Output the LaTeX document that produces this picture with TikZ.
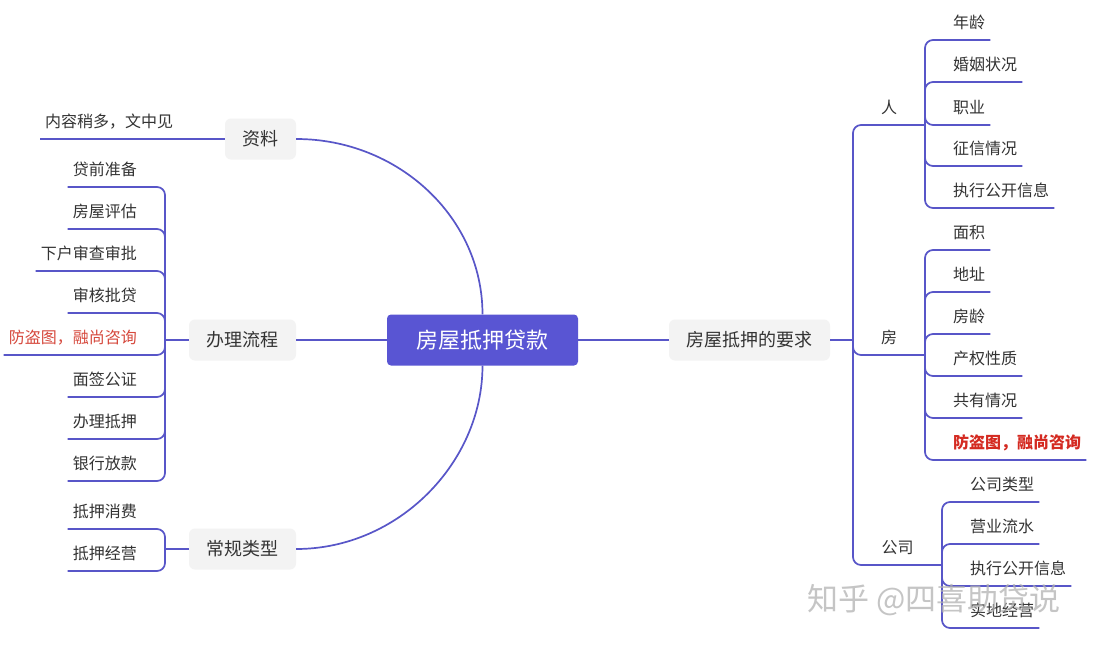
\documentclass[tikz,border=0pt]{standalone}
\usepackage{fontspec}
\setmainfont{Noto Sans CJK SC}
\definecolor{lineblue}{RGB}{88,86,200}
\definecolor{rootblue}{RGB}{89,85,211}
\definecolor{boxgray}{RGB}{243,243,243}
\definecolor{txt}{RGB}{51,51,51}
\definecolor{redtxt}{RGB}{214,72,60}
\definecolor{redbold}{RGB}{212,42,33}
\tikzset{
  conn/.style={draw=lineblue, line width=1.7pt, rounded corners=8pt},
  leafR/.style={anchor=south west, inner xsep=5pt, inner ysep=0pt, text depth=11pt, text height=12pt, font=\fontsize{16pt}{18pt}\selectfont, text=txt},
  leafL/.style={leafR, anchor=south east},
  topic/.style={fill=boxgray, rounded corners=6pt, inner xsep=17.5pt, inner ysep=0pt, minimum height=41pt, text height=15pt, text depth=1.4pt, font=\fontsize{18pt}{20pt}\selectfont, text=txt},
  rootbox/.style={fill=rootblue, rounded corners=4pt, inner xsep=29.5pt, inner ysep=0pt, minimum height=51pt, text height=18pt, text depth=1.2pt, font=\fontsize{22pt}{24pt}\selectfont, text=white},
  watermark/.style={font=\fontsize{31pt}{33pt}\selectfont, text=gray!60, opacity=0.75}
}
\begin{document}
\begin{tikzpicture}[x=1pt,y=-1pt]
\fill[white] (0,0) rectangle (1098,648);
\useasboundingbox (0,0) rectangle (1098,648);

% root and topics
\node[rootbox] (root) at (482.5,340) {房屋抵押贷款};
\node[topic] (ziliao) at (260.5,139) {资料};
\node[topic] (liucheng) at (242.5,340) {办理流程};
\node[topic] (leixing) at (242.5,549) {常规类型};
\node[topic] (req) at (749.5,340) {房屋抵押的要求};

\draw[conn] (ziliao.east) .. controls +(102,0) and +(0,-97) .. (root.north);
\draw[conn] (leixing.east) .. controls +(102,0) and +(0,97) .. (root.south);
\draw[conn] (root.west) -- (liucheng.east);
\draw[conn] (root.east) -- (req.west);

% 资料
\node[leafR] (zl1) at (40,139) {内容稍多，文中见};
\draw[conn] (ziliao.west) -- (zl1.south west);

% 办理流程
\coordinate (lcJ) at (165,340);
\draw[conn] (liucheng.west) -- (lcJ);
\node[leafL] (L1) at (142,187) {贷前准备};
\node[leafL] (L2) at (142,229) {房屋评估};
\node[leafL] (L3) at (142,271) {下户审查审批};
\node[leafL] (L4) at (142,313) {审核批贷};
\node[leafL, text=redtxt] (L5) at (142,355) {防盗图，融尚咨询};
\node[leafL] (L6) at (142,397) {面签公证};
\node[leafL] (L7) at (142,439) {办理抵押};
\node[leafL] (L8) at (142,481) {银行放款};
\foreach \n in {L1,L2,L3,L4,L5,L6,L7,L8}{\draw[conn] (lcJ) |- (\n.south west);}

% 常规类型
\coordinate (lxJ) at (165,549);
\draw[conn] (leixing.west) -- (lxJ);
\node[leafL] (C1) at (142,529) {抵押消费};
\node[leafL] (C2) at (142,571) {抵押经营};
\foreach \n in {C1,C2}{\draw[conn] (lxJ) |- (\n.south west);}

% 房屋抵押的要求
\coordinate (rJ) at (853,340);
\draw[conn] (req.east) -- (rJ);
\coordinate (renJ) at (925,125);
\coordinate (fangJ) at (925,355);
\coordinate (gsJ) at (942,565);
\draw[conn] (rJ) |- (renJ);
\draw[conn] (rJ) |- (fangJ);
\draw[conn] (rJ) |- (gsJ);
\node[leafR, anchor=south] (ren) at (889,125) {人};
\node[leafR, anchor=south] (fang) at (889,355) {房};
\node[leafR, anchor=south] (gongsi) at (897.5,565) {公司};

% 人
\node[leafR] (R1) at (948,40) {年龄};
\node[leafR] (R2) at (948,82) {婚姻状况};
\node[leafR] (R3) at (948,125) {职业};
\node[leafR] (R4) at (948,166) {征信情况};
\node[leafR] (R5) at (948,208) {执行公开信息};
\foreach \n in {R1,R2,R3,R4,R5}{\draw[conn] (renJ) |- (\n.south east);}

% 房
\node[leafR] (F1) at (948,250) {面积};
\node[leafR] (F2) at (948,292) {地址};
\node[leafR] (F3) at (948,334) {房龄};
\node[leafR] (F4) at (948,376) {产权性质};
\node[leafR] (F5) at (948,418) {共有情况};
\node[leafR, text=redbold, font=\fontsize{16pt}{18pt}\selectfont\bfseries] (F6) at (948,460) {防盗图，融尚咨询};
\foreach \n in {F1,F2,F3,F4,F5,F6}{\draw[conn] (fangJ) |- (\n.south east);}

% 公司
\node[leafR] (G1) at (965,502) {公司类型};
\node[leafR] (G2) at (965,544) {营业流水};
\node[leafR] (G3) at (965,586) {执行公开信息};
\node[leafR] (G4) at (965,628) {实地经营};
\foreach \n in {G1,G2,G3,G4}{\draw[conn] (gsJ) |- (\n.south east);}

% watermark
\node[watermark] (wm) at (934,600) {知乎 @四喜助贷说};
\end{tikzpicture}
\end{document}
